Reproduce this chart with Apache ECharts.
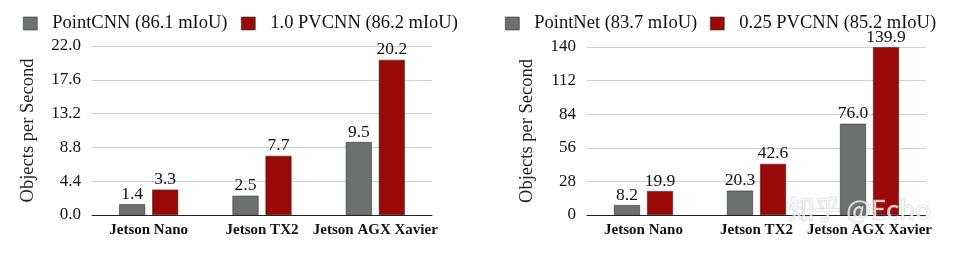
<!DOCTYPE html>
<html><head><meta charset="utf-8">
<script src="https://cdn.jsdelivr.net/npm/echarts@6/dist/echarts.min.js"></script>
<style>html,body{margin:0;padding:0;background:#fff}#c{width:976px;height:256px}</style>
</head><body><div id="c"></div>
<script>
const categories = ['Jetson Nano', 'Jetson TX2', 'Jetson AGX Xavier'];
const leftNames = ['PointCNN (86.1 mIoU)', '1.0 PVCNN (86.2 mIoU)'];
const leftGray = [1.4, 2.5, 9.5];
const leftRed = [3.3, 7.7, 20.2];
const rightNames = ['PointNet (83.7 mIoU)', '0.25 PVCNN (85.2 mIoU)'];
const rightGray = [8.2, 20.3, 76.0];
const rightRed = [19.9, 42.6, 139.9];
const yName = 'Objects per Second';

const GRAY = '#6c706e', RED = '#9b0808';
const FONT = 'Liberation Serif';
const chart = echarts.init(document.getElementById('c'));

function xAxis(gi){return {type:'category',gridIndex:gi,data:categories,
  axisTick:{show:false},axisLine:{lineStyle:{color:'#222',width:1}},
  axisLabel:{interval:0,fontFamily:FONT,fontWeight:'bold',fontSize:15,color:'#111',margin:8}};}
function yAxis(gi,max,interval,dec){return {type:'value',gridIndex:gi,min:0,max:max,interval:interval,
  name:yName,nameLocation:'middle',nameGap:gi===0?54:50,nameTextStyle:{fontFamily:FONT,fontSize:18.5,color:'#222'},
  axisLine:{show:false},axisTick:{show:false},
  splitLine:{lineStyle:{color:'#cfcfcf',width:1}},
  axisLabel:{fontFamily:FONT,fontSize:17,color:'#111',margin:11,formatter:v=>v.toFixed(dec)}};}
function bar(name,data,color,gi){return {name:name,type:'bar',xAxisIndex:gi,yAxisIndex:gi,data:data,
  barWidth:26,barGap:'27%',
  itemStyle:{color:color,borderColor:'#333',borderWidth:0.6},
  label:{show:true,position:'top',distance:1,fontFamily:FONT,fontSize:17.5,color:'#111',formatter:p=>p.value.toFixed(1)}};}
function legend(name,left){return {data:[name],left:left,top:14,padding:0,itemWidth:14,itemHeight:13,
  icon:'rect',itemStyle:{borderColor:'#333',borderWidth:0.6},
  textStyle:{fontFamily:FONT,fontSize:18.5,color:'#111',padding:[0,0,0,10]}};}

chart.setOption({
  animation:false,
  legend:[legend(leftNames[0],23),legend(leftNames[1],241),legend(rightNames[0],505),legend(rightNames[1],710)],
  grid:[{left:92,right:544,top:46,bottom:41},{left:587,right:50,top:47,bottom:41}],
  xAxis:[xAxis(0),xAxis(1)],
  yAxis:[yAxis(0,22,4.4,1),yAxis(1,140,28,0)],
  series:[bar(leftNames[0],leftGray,GRAY,0),bar(leftNames[1],leftRed,RED,0),
          bar(rightNames[0],rightGray,GRAY,1),bar(rightNames[1],rightRed,RED,1)],
  graphic:[{type:'text',left:788,top:196,z:100,style:{text:'知乎 @Echo',font:'26px "Noto Sans CJK SC"',
    fill:'rgba(255,255,255,0.75)',stroke:'rgba(170,170,170,0.55)',lineWidth:1}}]
});
</script></body></html>
